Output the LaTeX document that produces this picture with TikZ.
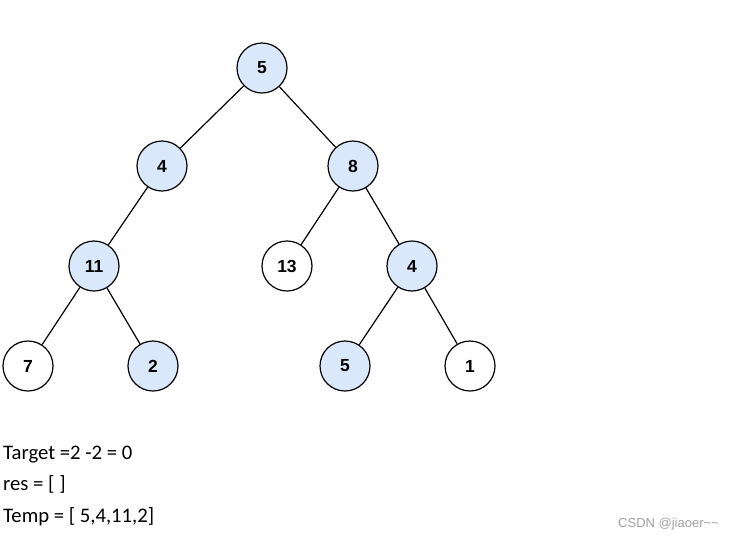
\documentclass[tikz,border=0pt]{standalone}
\usepackage{fontspec}
\setmainfont{Liberation Sans}
\newfontfamily\calib{Carlito}
\definecolor{nodeblue}{HTML}{DAE8FC}
\definecolor{wm}{HTML}{A0A0A0}
\tikzset{
  tn/.style={circle, draw=black, line width=1.2pt, minimum size=50pt, inner sep=0pt, font=\fontsize{17.5}{17.5}\selectfont\bfseries},
  hit/.style={tn, fill=nodeblue},
  miss/.style={tn, fill=white},
  edge/.style={line width=1.2pt, draw=black},
  txt/.style={anchor=base west, inner sep=0pt, font=\calib\fontsize{20.7}{20.7}\selectfont}
}
\begin{document}
\begin{tikzpicture}[x=1pt,y=-1pt]
\useasboundingbox (0,0) rectangle (734,539);
\node[hit]  (n5)  at (262,68) {5};
\node[hit]  (n4)  at (162,166) {4};
\node[hit]  (n8)  at (353,166) {8};
\node[hit]  (n11) at (94,266) {11};
\node[miss] (n13) at (287,266) {13};
\node[hit]  (n4b) at (412,266) {4};
\node[miss] (n7)  at (28,366) {7};
\node[hit]  (n2)  at (153,366) {2};
\node[hit]  (n5b) at (345,366) {5};
\node[miss] (n1)  at (470,366) {1};
\draw[edge] (n5) -- (n4);
\draw[edge] (n5) -- (n8);
\draw[edge] (n4) -- (n11);
\draw[edge] (n8) -- (n13);
\draw[edge] (n8) -- (n4b);
\draw[edge] (n11) -- (n7);
\draw[edge] (n11) -- (n2);
\draw[edge] (n4b) -- (n5b);
\draw[edge] (n4b) -- (n1);
\node[txt] (t1) at (3,459) {Target =2 -2 = 0};
\node[txt] (t2) at (3,490) {res = [ ]};
\node[txt] (t3) at (3,522) {Temp = [ 5,4,11,2]};
\node[anchor=base west, inner sep=0pt, text=wm, font=\fontsize{13}{13}\selectfont] (wmk) at (618,527) {CSDN @jiaoer\textasciitilde\textasciitilde};
\end{tikzpicture}
\end{document}
